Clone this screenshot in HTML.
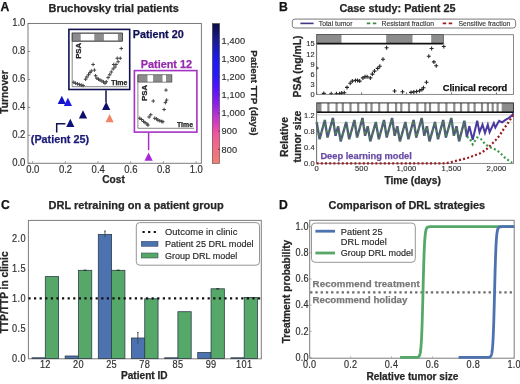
<!DOCTYPE html>
<html><head><meta charset="utf-8"><style>
html,body{margin:0;padding:0;background:#fff;width:520px;height:384px;overflow:hidden}
svg{display:block;filter:blur(0.3px)}
text{font-family:"Liberation Sans", sans-serif}
</style></head><body>
<svg width="520" height="384" viewBox="0 0 520 384" font-family='"Liberation Sans", sans-serif'>
<rect width="520" height="384" fill="#fff"/>
<text x="0.60" y="11.40" font-size="12.2" font-weight="bold" fill="#111" text-anchor="start" stroke="#111" stroke-width="0.25">A</text>
<text x="48.60" y="11.50" font-size="10.9" font-weight="bold" fill="#262626" text-anchor="start" stroke="#262626" stroke-width="0.25">Bruchovsky trial patients</text>
<rect x="28.00" y="23.50" width="173.40" height="139.80" fill="none" stroke="#7c7c7c" stroke-width="1"/>
<text x="25.40" y="166.20" font-size="9.5" fill="#2e2e2e" text-anchor="end" transform="translate(0 166.20) scale(1 1.1) translate(0 -166.20)" stroke="#2e2e2e" stroke-width="0.15">0.0</text>
<text x="32.80" y="172.90" font-size="9.5" fill="#2e2e2e" text-anchor="middle" transform="translate(0 172.90) scale(1 1.1) translate(0 -172.90)" stroke="#2e2e2e" stroke-width="0.15">0.0</text>
<text x="25.40" y="138.24" font-size="9.5" fill="#2e2e2e" text-anchor="end" transform="translate(0 138.24) scale(1 1.1) translate(0 -138.24)" stroke="#2e2e2e" stroke-width="0.15">0.2</text>
<text x="65.50" y="172.90" font-size="9.5" fill="#2e2e2e" text-anchor="middle" transform="translate(0 172.90) scale(1 1.1) translate(0 -172.90)" stroke="#2e2e2e" stroke-width="0.15">0.2</text>
<text x="25.40" y="110.28" font-size="9.5" fill="#2e2e2e" text-anchor="end" transform="translate(0 110.28) scale(1 1.1) translate(0 -110.28)" stroke="#2e2e2e" stroke-width="0.15">0.4</text>
<text x="98.20" y="172.90" font-size="9.5" fill="#2e2e2e" text-anchor="middle" transform="translate(0 172.90) scale(1 1.1) translate(0 -172.90)" stroke="#2e2e2e" stroke-width="0.15">0.4</text>
<text x="25.40" y="82.32" font-size="9.5" fill="#2e2e2e" text-anchor="end" transform="translate(0 82.32) scale(1 1.1) translate(0 -82.32)" stroke="#2e2e2e" stroke-width="0.15">0.6</text>
<text x="130.90" y="172.90" font-size="9.5" fill="#2e2e2e" text-anchor="middle" transform="translate(0 172.90) scale(1 1.1) translate(0 -172.90)" stroke="#2e2e2e" stroke-width="0.15">0.6</text>
<text x="25.40" y="54.36" font-size="9.5" fill="#2e2e2e" text-anchor="end" transform="translate(0 54.36) scale(1 1.1) translate(0 -54.36)" stroke="#2e2e2e" stroke-width="0.15">0.8</text>
<text x="163.60" y="172.90" font-size="9.5" fill="#2e2e2e" text-anchor="middle" transform="translate(0 172.90) scale(1 1.1) translate(0 -172.90)" stroke="#2e2e2e" stroke-width="0.15">0.8</text>
<text x="25.40" y="26.40" font-size="9.5" fill="#2e2e2e" text-anchor="end" transform="translate(0 26.40) scale(1 1.1) translate(0 -26.40)" stroke="#2e2e2e" stroke-width="0.15">1.0</text>
<text x="196.30" y="172.90" font-size="9.5" fill="#2e2e2e" text-anchor="middle" transform="translate(0 172.90) scale(1 1.1) translate(0 -172.90)" stroke="#2e2e2e" stroke-width="0.15">1.0</text>
<line x1="32.60" y1="161.10" x2="32.60" y2="163.30" stroke="#8a8a8a" stroke-width="0.8"/>
<line x1="28.00" y1="163.30" x2="30.20" y2="163.30" stroke="#6a6a6a" stroke-width="0.8"/>
<line x1="65.30" y1="161.10" x2="65.30" y2="163.30" stroke="#8a8a8a" stroke-width="0.8"/>
<line x1="28.00" y1="135.34" x2="30.20" y2="135.34" stroke="#6a6a6a" stroke-width="0.8"/>
<line x1="98.00" y1="161.10" x2="98.00" y2="163.30" stroke="#8a8a8a" stroke-width="0.8"/>
<line x1="28.00" y1="107.38" x2="30.20" y2="107.38" stroke="#6a6a6a" stroke-width="0.8"/>
<line x1="130.70" y1="161.10" x2="130.70" y2="163.30" stroke="#8a8a8a" stroke-width="0.8"/>
<line x1="28.00" y1="79.42" x2="30.20" y2="79.42" stroke="#6a6a6a" stroke-width="0.8"/>
<line x1="163.40" y1="161.10" x2="163.40" y2="163.30" stroke="#8a8a8a" stroke-width="0.8"/>
<line x1="28.00" y1="51.46" x2="30.20" y2="51.46" stroke="#6a6a6a" stroke-width="0.8"/>
<line x1="196.10" y1="161.10" x2="196.10" y2="163.30" stroke="#8a8a8a" stroke-width="0.8"/>
<line x1="28.00" y1="23.50" x2="30.20" y2="23.50" stroke="#6a6a6a" stroke-width="0.8"/>
<text x="113.60" y="183.30" font-size="10.2" font-weight="bold" fill="#262626" text-anchor="middle" stroke="#262626" stroke-width="0.25">Cost</text>
<text x="8.30" y="92.00" font-size="10.2" font-weight="bold" fill="#262626" text-anchor="middle" transform="rotate(-90 8.30 92.00)" stroke="#262626" stroke-width="0.25">Turnover</text>
<defs><linearGradient id="cb" x1="0" y1="0" x2="0" y2="1"><stop offset="0" stop-color="#0c0c44"/><stop offset="0.118" stop-color="#1a1a90"/><stop offset="0.25" stop-color="#1a1aee"/><stop offset="0.38" stop-color="#2a18ff"/><stop offset="0.47" stop-color="#5a12ff"/><stop offset="0.58" stop-color="#9020e8"/><stop offset="0.64" stop-color="#b030d8"/><stop offset="0.73" stop-color="#e040b8"/><stop offset="0.77" stop-color="#f050a4"/><stop offset="0.87" stop-color="#f46888"/><stop offset="1" stop-color="#f28070"/></linearGradient></defs>
<rect x="212.30" y="23.50" width="7.30" height="140.00" fill="url(#cb)" stroke="#4a4a4a" stroke-width="0.6"/>
<line x1="218.00" y1="40.40" x2="219.60" y2="40.40" stroke="#333" stroke-width="0.8"/>
<line x1="218.00" y1="58.55" x2="219.60" y2="58.55" stroke="#333" stroke-width="0.8"/>
<line x1="218.00" y1="76.70" x2="219.60" y2="76.70" stroke="#333" stroke-width="0.8"/>
<line x1="218.00" y1="94.85" x2="219.60" y2="94.85" stroke="#333" stroke-width="0.8"/>
<line x1="218.00" y1="113.00" x2="219.60" y2="113.00" stroke="#333" stroke-width="0.8"/>
<line x1="218.00" y1="131.15" x2="219.60" y2="131.15" stroke="#333" stroke-width="0.8"/>
<line x1="218.00" y1="149.30" x2="219.60" y2="149.30" stroke="#333" stroke-width="0.8"/>
<text x="221.60" y="43.60" font-size="9.2" fill="#2e2e2e" text-anchor="start" letter-spacing="0.15" stroke="#2e2e2e" stroke-width="0.15">1,400</text>
<text x="221.60" y="61.75" font-size="9.2" fill="#2e2e2e" text-anchor="start" letter-spacing="0.15" stroke="#2e2e2e" stroke-width="0.15">1,300</text>
<text x="221.60" y="79.90" font-size="9.2" fill="#2e2e2e" text-anchor="start" letter-spacing="0.15" stroke="#2e2e2e" stroke-width="0.15">1,200</text>
<text x="221.60" y="98.05" font-size="9.2" fill="#2e2e2e" text-anchor="start" letter-spacing="0.15" stroke="#2e2e2e" stroke-width="0.15">1,100</text>
<text x="221.60" y="116.20" font-size="9.2" fill="#2e2e2e" text-anchor="start" letter-spacing="0.15" stroke="#2e2e2e" stroke-width="0.15">1,000</text>
<text x="221.60" y="134.35" font-size="9.2" fill="#2e2e2e" text-anchor="start" letter-spacing="0.15" stroke="#2e2e2e" stroke-width="0.15">900</text>
<text x="221.60" y="152.50" font-size="9.2" fill="#2e2e2e" text-anchor="start" letter-spacing="0.15" stroke="#2e2e2e" stroke-width="0.15">800</text>
<text x="250.80" y="93.00" font-size="9.8" font-weight="bold" fill="#262626" text-anchor="middle" transform="rotate(90 250.80 93.00)" stroke="#262626" stroke-width="0.25">Patient TTP (days)</text>
<path d="M61.80 95.70L65.90 103.90L57.70 103.90Z" fill="#1414c4"/>
<path d="M67.90 97.70L72.00 105.90L63.80 105.90Z" fill="#1c1ce6"/>
<path d="M83.00 110.30L87.10 118.50L78.90 118.50Z" fill="#0e0e6a"/>
<path d="M70.30 118.70L74.40 126.90L66.20 126.90Z" fill="#10107a"/>
<path d="M106.20 101.80L110.30 110.00L102.10 110.00Z" fill="#0e0e6c"/>
<path d="M109.60 114.10L113.70 122.30L105.50 122.30Z" fill="#f28466"/>
<path d="M148.60 152.50L152.70 160.70L144.50 160.70Z" fill="#a824d8"/>
<rect x="68.90" y="29.40" width="60.80" height="60.10" fill="white" stroke="#121250" stroke-width="1.6"/>
<line x1="106.00" y1="90.30" x2="106.00" y2="102.60" stroke="#121250" stroke-width="1.5"/>
<rect x="72.20" y="33.10" width="50.40" height="8.00" fill="#ffffff" stroke="#222" stroke-width="0.7"/>
<rect x="72.20" y="33.10" width="8.50" height="8.00" fill="#8c8c8c" stroke="none" stroke-width="1"/>
<rect x="94.30" y="33.10" width="9.60" height="8.00" fill="#8c8c8c" stroke="none" stroke-width="1"/>
<rect x="117.90" y="33.10" width="4.70" height="8.00" fill="#8c8c8c" stroke="none" stroke-width="1"/>
<rect x="72.20" y="33.10" width="50.40" height="8.00" fill="none" stroke="#333" stroke-width="0.6"/>
<line x1="72.20" y1="33.10" x2="72.20" y2="86.70" stroke="#555" stroke-width="0.7"/>
<line x1="72.20" y1="86.70" x2="127.60" y2="86.70" stroke="#555" stroke-width="0.7"/>
<text x="80.80" y="50.80" font-size="7.8" font-weight="bold" fill="#222" text-anchor="middle" transform="rotate(-90 80.80 50.80)" stroke="#222" stroke-width="0.25">PSA</text>
<text x="111.30" y="85.00" font-size="6.9" font-weight="bold" fill="#222" text-anchor="start" stroke="#222" stroke-width="0.25">Time</text>
<path d="M71.95 82.25H75.55M73.75 80.45V84.05" stroke="#444" stroke-width="1.0"/>
<path d="M73.80 83.25H77.40M75.60 81.45V85.05" stroke="#444" stroke-width="1.0"/>
<path d="M75.70 83.90H79.30M77.50 82.10V85.70" stroke="#444" stroke-width="1.0"/>
<path d="M77.60 84.50H81.20M79.40 82.70V86.30" stroke="#444" stroke-width="1.0"/>
<path d="M79.45 85.10H83.05M81.25 83.30V86.90" stroke="#444" stroke-width="1.0"/>
<path d="M81.30 85.50H84.90M83.10 83.70V87.30" stroke="#444" stroke-width="1.0"/>
<path d="M83.80 79.25H87.40M85.60 77.45V81.05" stroke="#444" stroke-width="1.0"/>
<path d="M85.10 77.00H88.70M86.90 75.20V78.80" stroke="#444" stroke-width="1.0"/>
<path d="M86.70 74.75H90.30M88.50 72.95V76.55" stroke="#444" stroke-width="1.0"/>
<path d="M88.20 72.60H91.80M90.00 70.80V74.40" stroke="#444" stroke-width="1.0"/>
<path d="M89.45 71.00H93.05M91.25 69.20V72.80" stroke="#444" stroke-width="1.0"/>
<path d="M91.30 64.50H94.90M93.10 62.70V66.30" stroke="#444" stroke-width="1.0"/>
<path d="M92.60 70.10H96.20M94.40 68.30V71.90" stroke="#444" stroke-width="1.0"/>
<path d="M93.80 75.75H97.40M95.60 73.95V77.55" stroke="#444" stroke-width="1.0"/>
<path d="M95.10 78.25H98.70M96.90 76.45V80.05" stroke="#444" stroke-width="1.0"/>
<path d="M96.70 79.25H100.30M98.50 77.45V81.05" stroke="#444" stroke-width="1.0"/>
<path d="M98.20 80.10H101.80M100.00 78.30V81.90" stroke="#444" stroke-width="1.0"/>
<path d="M100.10 81.00H103.70M101.90 79.20V82.80" stroke="#444" stroke-width="1.0"/>
<path d="M101.70 82.00H105.30M103.50 80.20V83.80" stroke="#444" stroke-width="1.0"/>
<path d="M103.20 83.25H106.80M105.00 81.45V85.05" stroke="#444" stroke-width="1.0"/>
<path d="M104.45 81.75H108.05M106.25 79.95V83.55" stroke="#444" stroke-width="1.0"/>
<path d="M106.30 77.60H109.90M108.10 75.80V79.40" stroke="#444" stroke-width="1.0"/>
<path d="M107.95 74.75H111.55M109.75 72.95V76.55" stroke="#444" stroke-width="1.0"/>
<path d="M109.45 72.00H113.05M111.25 70.20V73.80" stroke="#444" stroke-width="1.0"/>
<path d="M111.30 68.90H114.90M113.10 67.10V70.70" stroke="#444" stroke-width="1.0"/>
<path d="M113.20 67.00H116.80M115.00 65.20V68.80" stroke="#444" stroke-width="1.0"/>
<path d="M111.95 64.50H115.55M113.75 62.70V66.30" stroke="#444" stroke-width="1.0"/>
<path d="M114.20 64.50H117.80M116.00 62.70V66.30" stroke="#444" stroke-width="1.0"/>
<path d="M116.30 61.75H119.90M118.10 59.95V63.55" stroke="#444" stroke-width="1.0"/>
<path d="M115.45 58.25H119.05M117.25 56.45V60.05" stroke="#444" stroke-width="1.0"/>
<path d="M118.45 58.25H122.05M120.25 56.45V60.05" stroke="#444" stroke-width="1.0"/>
<path d="M119.45 48.50H123.05M121.25 46.70V50.30" stroke="#444" stroke-width="1.0"/>
<rect x="134.40" y="70.60" width="62.50" height="61.50" fill="white" stroke="#a432c4" stroke-width="1.6"/>
<line x1="148.60" y1="132.90" x2="148.60" y2="150.20" stroke="#a432c4" stroke-width="1.5"/>
<rect x="137.90" y="74.80" width="34.00" height="7.30" fill="#ffffff" stroke="none" stroke-width="1"/>
<rect x="137.90" y="74.80" width="9.60" height="7.30" fill="#8c8c8c" stroke="none" stroke-width="1"/>
<rect x="153.10" y="74.80" width="9.40" height="7.30" fill="#8c8c8c" stroke="none" stroke-width="1"/>
<rect x="166.00" y="74.80" width="5.90" height="7.30" fill="#8c8c8c" stroke="none" stroke-width="1"/>
<rect x="137.90" y="74.80" width="34.00" height="7.30" fill="none" stroke="#333" stroke-width="0.6"/>
<line x1="137.90" y1="74.80" x2="137.90" y2="128.30" stroke="#555" stroke-width="0.7"/>
<line x1="137.90" y1="128.30" x2="194.00" y2="128.30" stroke="#555" stroke-width="0.7"/>
<text x="147.30" y="92.90" font-size="7.8" font-weight="bold" fill="#222" text-anchor="middle" transform="rotate(-90 147.30 92.90)" stroke="#222" stroke-width="0.25">PSA</text>
<text x="177.00" y="126.60" font-size="6.9" font-weight="bold" fill="#222" text-anchor="start" stroke="#222" stroke-width="0.25">Time</text>
<path d="M137.95 118.25H141.55M139.75 116.45V120.05" stroke="#444" stroke-width="1.0"/>
<path d="M139.80 119.50H143.40M141.60 117.70V121.30" stroke="#444" stroke-width="1.0"/>
<path d="M141.70 121.40H145.30M143.50 119.60V123.20" stroke="#444" stroke-width="1.0"/>
<path d="M143.20 122.60H146.80M145.00 120.80V124.40" stroke="#444" stroke-width="1.0"/>
<path d="M145.20 123.90H148.80M147.00 122.10V125.70" stroke="#444" stroke-width="1.0"/>
<path d="M146.10 125.10H149.70M147.90 123.30V126.90" stroke="#444" stroke-width="1.0"/>
<path d="M147.30 117.00H150.90M149.10 115.20V118.80" stroke="#444" stroke-width="1.0"/>
<path d="M148.95 114.75H152.55M150.75 112.95V116.55" stroke="#444" stroke-width="1.0"/>
<path d="M151.45 101.00H155.05M153.25 99.20V102.80" stroke="#444" stroke-width="1.0"/>
<path d="M152.95 118.25H156.55M154.75 116.45V120.05" stroke="#444" stroke-width="1.0"/>
<path d="M154.80 118.90H158.40M156.60 117.10V120.70" stroke="#444" stroke-width="1.0"/>
<path d="M156.10 120.10H159.70M157.90 118.30V121.90" stroke="#444" stroke-width="1.0"/>
<path d="M157.95 120.75H161.55M159.75 118.95V122.55" stroke="#444" stroke-width="1.0"/>
<path d="M159.80 121.40H163.40M161.60 119.60V123.20" stroke="#444" stroke-width="1.0"/>
<path d="M161.10 121.75H164.70M162.90 119.95V123.55" stroke="#444" stroke-width="1.0"/>
<path d="M162.30 109.50H165.90M164.10 107.70V111.30" stroke="#444" stroke-width="1.0"/>
<path d="M163.60 102.60H167.20M165.40 100.80V104.40" stroke="#444" stroke-width="1.0"/>
<path d="M164.80 100.10H168.40M166.60 98.30V101.90" stroke="#444" stroke-width="1.0"/>
<path d="M164.20 90.10H167.80M166.00 88.30V91.90" stroke="#444" stroke-width="1.0"/>
<text x="132.70" y="37.80" font-size="10.8" font-weight="bold" fill="#11115a" text-anchor="start" stroke="#11115a" stroke-width="0.25">Patient 20</text>
<text x="140.70" y="68.30" font-size="10.9" font-weight="bold" fill="#962aae" text-anchor="start" stroke="#962aae" stroke-width="0.25">Patient 12</text>
<text x="30.80" y="143.00" font-size="10.8" font-weight="bold" fill="#1a1a78" text-anchor="start" stroke="#1a1a78" stroke-width="0.25">(Patient 25)</text>
<path d="M56.7 132.6V123.8H65.4" fill="none" stroke="#121250" stroke-width="1.5"/>
<text x="279.00" y="11.40" font-size="12.2" font-weight="bold" fill="#111" text-anchor="start" stroke="#111" stroke-width="0.25">B</text>
<text x="339.40" y="12.10" font-size="10.9" font-weight="bold" fill="#262626" text-anchor="start" stroke="#262626" stroke-width="0.25">Case study: Patient 25</text>
<rect x="292.3" y="19.1" width="223.3" height="8.9" rx="2.5" fill="white" stroke="#6a6a6a" stroke-width="0.9"/>
<line x1="300.40" y1="23.40" x2="313.60" y2="23.40" stroke="#463486" stroke-width="1.6"/>
<text x="318.80" y="25.80" font-size="6.8" fill="#3a3a3a" text-anchor="start" stroke="#3a3a3a" stroke-width="0.15">Total tumor</text>
<line x1="366.80" y1="23.40" x2="376.30" y2="23.40" stroke="#3f8a3f" stroke-width="1.6" stroke-dasharray="3.5 2.5"/>
<text x="381.50" y="25.80" font-size="6.8" fill="#3a3a3a" text-anchor="start" stroke="#3a3a3a" stroke-width="0.15">Resistant fraction</text>
<line x1="442.70" y1="23.40" x2="452.70" y2="23.40" stroke="#9a1c1c" stroke-width="1.6" stroke-dasharray="3.5 2.5"/>
<text x="458.50" y="25.80" font-size="6.8" fill="#3a3a3a" text-anchor="start" stroke="#3a3a3a" stroke-width="0.15">Sensitive fraction</text>
<rect x="316.60" y="34.70" width="196.90" height="59.70" fill="none" stroke="#7c7c7c" stroke-width="0.9"/>
<rect x="316.60" y="34.70" width="25.10" height="8.90" fill="#8c8c8c" stroke="none" stroke-width="1"/>
<rect x="341.70" y="34.70" width="44.50" height="8.90" fill="#fff" stroke="none" stroke-width="1"/>
<rect x="386.20" y="34.70" width="26.50" height="8.90" fill="#8c8c8c" stroke="none" stroke-width="1"/>
<rect x="412.70" y="34.70" width="18.50" height="8.90" fill="#fff" stroke="none" stroke-width="1"/>
<rect x="431.20" y="34.70" width="12.20" height="8.90" fill="#8c8c8c" stroke="none" stroke-width="1"/>
<rect x="316.60" y="34.70" width="126.80" height="8.90" fill="none" stroke="#333" stroke-width="0.6"/>
<line x1="316.60" y1="43.60" x2="443.40" y2="43.60" stroke="#111" stroke-width="1.6"/>
<line x1="316.60" y1="34.70" x2="316.60" y2="94.40" stroke="#777" stroke-width="0.9"/>
<text x="314.90" y="97.00" font-size="7.4" fill="#2e2e2e" text-anchor="end" letter-spacing="0.2" stroke="#2e2e2e" stroke-width="0.15">0</text>
<text x="314.90" y="86.89" font-size="7.4" fill="#2e2e2e" text-anchor="end" letter-spacing="0.2" stroke="#2e2e2e" stroke-width="0.15">3</text>
<text x="314.90" y="76.78" font-size="7.4" fill="#2e2e2e" text-anchor="end" letter-spacing="0.2" stroke="#2e2e2e" stroke-width="0.15">6</text>
<text x="314.90" y="66.67" font-size="7.4" fill="#2e2e2e" text-anchor="end" letter-spacing="0.2" stroke="#2e2e2e" stroke-width="0.15">9</text>
<text x="314.90" y="56.56" font-size="7.4" fill="#2e2e2e" text-anchor="end" letter-spacing="0.2" stroke="#2e2e2e" stroke-width="0.15">12</text>
<text x="314.90" y="46.45" font-size="7.4" fill="#2e2e2e" text-anchor="end" letter-spacing="0.2" stroke="#2e2e2e" stroke-width="0.15">15</text>
<text x="300.60" y="66.50" font-size="10.4" font-weight="bold" fill="#262626" text-anchor="middle" transform="rotate(-90 300.60 66.50)" stroke="#262626" stroke-width="0.25">PSA (ng/mL)</text>
<defs><clipPath id="cpsa"><rect x="316.6" y="34.7" width="196.9" height="59.7"/></clipPath></defs><g clip-path="url(#cpsa)">
<path d="M314.60 68.10H318.60M316.60 66.10V70.10" stroke="#262626" stroke-width="1.1"/>
<path d="M321.80 93.40H325.80M323.80 91.40V95.40" stroke="#262626" stroke-width="1.1"/>
<path d="M329.20 93.70H333.20M331.20 91.70V95.70" stroke="#262626" stroke-width="1.1"/>
<path d="M334.40 93.70H338.40M336.40 91.70V95.70" stroke="#262626" stroke-width="1.1"/>
<path d="M337.60 93.70H341.60M339.60 91.70V95.70" stroke="#262626" stroke-width="1.1"/>
<path d="M339.70 93.10H343.70M341.70 91.10V95.10" stroke="#262626" stroke-width="1.1"/>
<path d="M342.30 92.70H346.30M344.30 90.70V94.70" stroke="#262626" stroke-width="1.1"/>
<path d="M345.00 87.40H349.00M347.00 85.40V89.40" stroke="#262626" stroke-width="1.1"/>
<path d="M348.20 83.20H352.20M350.20 81.20V85.20" stroke="#262626" stroke-width="1.1"/>
<path d="M350.30 81.10H354.30M352.30 79.10V83.10" stroke="#262626" stroke-width="1.1"/>
<path d="M353.50 80.40H357.50M355.50 78.40V82.40" stroke="#262626" stroke-width="1.1"/>
<path d="M355.60 80.40H359.60M357.60 78.40V82.40" stroke="#262626" stroke-width="1.1"/>
<path d="M357.70 81.10H361.70M359.70 79.10V83.10" stroke="#262626" stroke-width="1.1"/>
<path d="M360.90 77.90H364.90M362.90 75.90V79.90" stroke="#262626" stroke-width="1.1"/>
<path d="M363.00 76.80H367.00M365.00 74.80V78.80" stroke="#262626" stroke-width="1.1"/>
<path d="M365.10 76.80H369.10M367.10 74.80V78.80" stroke="#262626" stroke-width="1.1"/>
<path d="M368.30 77.90H372.30M370.30 75.90V79.90" stroke="#262626" stroke-width="1.1"/>
<path d="M370.40 74.10H374.40M372.40 72.10V76.10" stroke="#262626" stroke-width="1.1"/>
<path d="M372.50 71.10H376.50M374.50 69.10V73.10" stroke="#262626" stroke-width="1.1"/>
<path d="M375.70 68.40H379.70M377.70 66.40V70.40" stroke="#262626" stroke-width="1.1"/>
<path d="M377.80 66.30H381.80M379.80 64.30V68.30" stroke="#262626" stroke-width="1.1"/>
<path d="M381.00 59.30H385.00M383.00 57.30V61.30" stroke="#262626" stroke-width="1.1"/>
<path d="M384.60 47.80H388.60M386.60 45.80V49.80" stroke="#262626" stroke-width="1.1"/>
<path d="M392.60 91.00H396.60M394.60 89.00V93.00" stroke="#262626" stroke-width="1.1"/>
<path d="M400.50 91.80H404.50M402.50 89.80V93.80" stroke="#262626" stroke-width="1.1"/>
<path d="M409.00 92.40H413.00M411.00 90.40V94.40" stroke="#262626" stroke-width="1.1"/>
<path d="M411.80 91.90H415.80M413.80 89.90V93.90" stroke="#262626" stroke-width="1.1"/>
<path d="M414.60 91.50H418.60M416.60 89.50V93.50" stroke="#262626" stroke-width="1.1"/>
<path d="M417.60 90.80H421.60M419.60 88.80V92.80" stroke="#262626" stroke-width="1.1"/>
<path d="M419.90 89.60H423.90M421.90 87.60V91.60" stroke="#262626" stroke-width="1.1"/>
<path d="M421.50 87.80H425.50M423.50 85.80V89.80" stroke="#262626" stroke-width="1.1"/>
<path d="M424.50 82.20H428.50M426.50 80.20V84.20" stroke="#262626" stroke-width="1.1"/>
<path d="M426.80 56.20H430.80M428.80 54.20V58.20" stroke="#262626" stroke-width="1.1"/>
<path d="M429.60 48.50H433.60M431.60 46.50V50.50" stroke="#262626" stroke-width="1.1"/>
<path d="M431.90 61.90H435.90M433.90 59.90V63.90" stroke="#262626" stroke-width="1.1"/>
<path d="M434.20 65.80H438.20M436.20 63.80V67.80" stroke="#262626" stroke-width="1.1"/>
<path d="M441.80 46.50H445.80M443.80 44.50V48.50" stroke="#262626" stroke-width="1.1"/>
</g>
<text x="442.70" y="90.80" font-size="9.3" font-weight="bold" fill="#111" text-anchor="start" stroke="#111" stroke-width="0.25">Clinical record</text>
<rect x="316.60" y="103.00" width="196.90" height="60.40" fill="none" stroke="#7c7c7c" stroke-width="0.9"/>
<line x1="316.60" y1="114.90" x2="513.50" y2="114.90" stroke="#c4c6c4" stroke-width="0.9"/>
<line x1="316.60" y1="122.80" x2="513.50" y2="122.80" stroke="#d2dad2" stroke-width="0.9"/>
<rect x="316.60" y="103.00" width="196.90" height="9.20" fill="#fff" stroke="none" stroke-width="1"/>
<rect x="316.60" y="103.00" width="4.90" height="9.20" fill="#8c8c8c" stroke="none" stroke-width="1"/>
<rect x="327.30" y="103.00" width="2.20" height="9.20" fill="#8c8c8c" stroke="none" stroke-width="1"/>
<rect x="335.50" y="103.00" width="2.20" height="9.20" fill="#8c8c8c" stroke="none" stroke-width="1"/>
<rect x="341.70" y="103.00" width="2.20" height="9.20" fill="#8c8c8c" stroke="none" stroke-width="1"/>
<rect x="349.40" y="103.00" width="2.20" height="9.20" fill="#8c8c8c" stroke="none" stroke-width="1"/>
<rect x="357.10" y="103.00" width="2.20" height="9.20" fill="#8c8c8c" stroke="none" stroke-width="1"/>
<rect x="365.15" y="103.00" width="2.20" height="9.20" fill="#8c8c8c" stroke="none" stroke-width="1"/>
<rect x="370.40" y="103.00" width="2.20" height="9.20" fill="#8c8c8c" stroke="none" stroke-width="1"/>
<rect x="378.10" y="103.00" width="2.20" height="9.20" fill="#8c8c8c" stroke="none" stroke-width="1"/>
<rect x="386.80" y="103.00" width="2.20" height="9.20" fill="#8c8c8c" stroke="none" stroke-width="1"/>
<rect x="395.00" y="103.00" width="2.20" height="9.20" fill="#8c8c8c" stroke="none" stroke-width="1"/>
<rect x="400.20" y="103.00" width="2.20" height="9.20" fill="#8c8c8c" stroke="none" stroke-width="1"/>
<rect x="407.90" y="103.00" width="2.20" height="9.20" fill="#8c8c8c" stroke="none" stroke-width="1"/>
<rect x="416.30" y="103.00" width="2.20" height="9.20" fill="#8c8c8c" stroke="none" stroke-width="1"/>
<rect x="424.20" y="103.00" width="2.20" height="9.20" fill="#8c8c8c" stroke="none" stroke-width="1"/>
<rect x="428.90" y="103.00" width="2.20" height="9.20" fill="#8c8c8c" stroke="none" stroke-width="1"/>
<rect x="437.50" y="103.00" width="2.20" height="9.20" fill="#8c8c8c" stroke="none" stroke-width="1"/>
<rect x="445.30" y="103.00" width="2.20" height="9.20" fill="#8c8c8c" stroke="none" stroke-width="1"/>
<rect x="453.20" y="103.00" width="2.20" height="9.20" fill="#8c8c8c" stroke="none" stroke-width="1"/>
<rect x="459.90" y="103.00" width="2.20" height="9.20" fill="#8c8c8c" stroke="none" stroke-width="1"/>
<rect x="467.30" y="103.00" width="2.20" height="9.20" fill="#8c8c8c" stroke="none" stroke-width="1"/>
<rect x="473.50" y="103.00" width="2.20" height="9.20" fill="#8c8c8c" stroke="none" stroke-width="1"/>
<rect x="480.90" y="103.00" width="2.20" height="9.20" fill="#8c8c8c" stroke="none" stroke-width="1"/>
<rect x="486.80" y="103.00" width="2.20" height="9.20" fill="#8c8c8c" stroke="none" stroke-width="1"/>
<rect x="491.60" y="103.00" width="2.20" height="9.20" fill="#8c8c8c" stroke="none" stroke-width="1"/>
<rect x="496.50" y="103.00" width="2.20" height="9.20" fill="#8c8c8c" stroke="none" stroke-width="1"/>
<rect x="501.70" y="103.00" width="11.80" height="9.20" fill="#8c8c8c" stroke="none" stroke-width="1"/>
<rect x="316.60" y="103.00" width="196.90" height="9.20" fill="none" stroke="#222" stroke-width="0.8"/>
<line x1="316.60" y1="112.20" x2="513.50" y2="112.20" stroke="#111" stroke-width="1.6"/>
<line x1="316.60" y1="103.00" x2="316.60" y2="163.40" stroke="#777" stroke-width="0.9"/>
<text x="314.90" y="166.00" font-size="7.4" fill="#2e2e2e" text-anchor="end" letter-spacing="0.2" stroke="#2e2e2e" stroke-width="0.15">0.0</text>
<text x="314.90" y="149.90" font-size="7.4" fill="#2e2e2e" text-anchor="end" letter-spacing="0.2" stroke="#2e2e2e" stroke-width="0.15">0.4</text>
<text x="314.90" y="133.80" font-size="7.4" fill="#2e2e2e" text-anchor="end" letter-spacing="0.2" stroke="#2e2e2e" stroke-width="0.15">0.8</text>
<text x="314.90" y="117.70" font-size="7.4" fill="#2e2e2e" text-anchor="end" letter-spacing="0.2" stroke="#2e2e2e" stroke-width="0.15">1.2</text>
<text x="316.60" y="171.40" font-size="7.6" fill="#2e2e2e" text-anchor="middle" letter-spacing="0.2" stroke="#2e2e2e" stroke-width="0.15">0</text>
<text x="361.58" y="171.40" font-size="7.6" fill="#2e2e2e" text-anchor="middle" letter-spacing="0.2" stroke="#2e2e2e" stroke-width="0.15">500</text>
<text x="406.55" y="171.40" font-size="7.6" fill="#2e2e2e" text-anchor="middle" letter-spacing="0.2" stroke="#2e2e2e" stroke-width="0.15">1,000</text>
<text x="451.53" y="171.40" font-size="7.6" fill="#2e2e2e" text-anchor="middle" letter-spacing="0.2" stroke="#2e2e2e" stroke-width="0.15">1,500</text>
<text x="496.50" y="171.40" font-size="7.6" fill="#2e2e2e" text-anchor="middle" letter-spacing="0.2" stroke="#2e2e2e" stroke-width="0.15">2,000</text>
<line x1="316.60" y1="92.40" x2="316.60" y2="94.40" stroke="#555" stroke-width="0.8"/>
<line x1="361.58" y1="92.40" x2="361.58" y2="94.40" stroke="#555" stroke-width="0.8"/>
<line x1="406.55" y1="92.40" x2="406.55" y2="94.40" stroke="#555" stroke-width="0.8"/>
<line x1="451.53" y1="92.40" x2="451.53" y2="94.40" stroke="#555" stroke-width="0.8"/>
<line x1="496.50" y1="92.40" x2="496.50" y2="94.40" stroke="#555" stroke-width="0.8"/>
<text x="412.60" y="184.00" font-size="10.2" font-weight="bold" fill="#262626" text-anchor="middle" stroke="#262626" stroke-width="0.25">Time (days)</text>
<text x="288.30" y="137.00" font-size="10.4" font-weight="bold" fill="#262626" text-anchor="middle" transform="rotate(-90 288.30 137.00)" stroke="#262626" stroke-width="0.25">Relative</text>
<text x="300.80" y="136.60" font-size="10.4" font-weight="bold" fill="#262626" text-anchor="middle" transform="rotate(-90 300.80 136.60)" stroke="#262626" stroke-width="0.25">tumor size</text>
<path d="M316.6 122.0 L319.6 139.2 L324.8 120.0 L327.5 137.5 L332.9 118.0 L335.5 135.8 L338.1 126.2 L340.7 141.4 L346.2 122.0 L349.2 139.2 L354.4 120.0 L357.1 137.5 L362.5 118.0 L365.1 135.8 L367.7 126.2 L370.3 141.4 L375.8 122.0 L378.8 139.2 L384.0 120.0 L386.7 137.5 L392.1 118.0 L394.7 135.8 L397.3 126.2 L399.9 141.4 L405.4 122.0 L408.4 139.2 L413.6 120.0 L416.3 137.5 L421.7 118.0 L424.3 135.8 L426.9 126.2 L429.5 141.4 L435.0 122.0 L438.0 139.2 L443.2 120.0 L445.9 137.5 L451.3 118.0 L453.9 135.8 L456.5 126.2 L459.1 141.4 L464.4 120.8 L466.9 136.7" fill="none" stroke="#50666c" stroke-width="2.4" stroke-linejoin="miter" stroke-miterlimit="3"/>
<path d="M316.6 122.0 L319.6 139.2 L324.8 120.0 L327.5 137.5 L332.9 118.0 L335.5 135.8 L338.1 126.2 L340.7 141.4 L346.2 122.0 L349.2 139.2 L354.4 120.0 L357.1 137.5 L362.5 118.0 L365.1 135.8 L367.7 126.2 L370.3 141.4 L375.8 122.0 L378.8 139.2 L384.0 120.0 L386.7 137.5 L392.1 118.0 L394.7 135.8 L397.3 126.2 L399.9 141.4 L405.4 122.0 L408.4 139.2 L413.6 120.0 L416.3 137.5 L421.7 118.0 L424.3 135.8 L426.9 126.2 L429.5 141.4 L435.0 122.0 L438.0 139.2 L443.2 120.0 L445.9 137.5 L451.3 118.0 L453.9 135.8 L456.5 126.2 L459.1 141.4 L464.4 120.8 L466.9 136.7" fill="none" stroke="#4f8a58" stroke-width="1.2" stroke-dasharray="1.4 4.6"/>
<path d="M316.6 122.0 L319.6 139.2 L324.8 120.0 L327.5 137.5 L332.9 118.0 L335.5 135.8 L338.1 126.2 L340.7 141.4 L346.2 122.0 L349.2 139.2 L354.4 120.0 L357.1 137.5 L362.5 118.0 L365.1 135.8 L367.7 126.2 L370.3 141.4 L375.8 122.0 L378.8 139.2 L384.0 120.0 L386.7 137.5 L392.1 118.0 L394.7 135.8 L397.3 126.2 L399.9 141.4 L405.4 122.0 L408.4 139.2 L413.6 120.0 L416.3 137.5 L421.7 118.0 L424.3 135.8 L426.9 126.2 L429.5 141.4 L435.0 122.0 L438.0 139.2 L443.2 120.0 L445.9 137.5 L451.3 118.0 L453.9 135.8 L456.5 126.2 L459.1 141.4 L464.4 120.8 L466.9 136.7" fill="none" stroke="#55499a" stroke-width="1.2" stroke-dasharray="1.4 4.6" stroke-dashoffset="3"/>
<path d="M466.9 136.7 L469.3 126.1 L472.7 139.7 L477.2 120.8 L479.5 132.2 L482.5 124.6 L485.0 133.0 L487.8 124.6 L489.6 132.2 L493.8 123.1 L495.3 127.6 L499.1 120.8 L502.1 122.4 L505.1 120.1 L508.9 117.8 L511.9 115.6 L513.4 113.3" fill="none" stroke="#4a3aa0" stroke-width="2.0"/>
<path d="M466.9 136.7 L469.6 138.4 L472.7 144.3 L477.2 137.5 L480.2 138.5 L482.5 140.5 L484.0 142.7 L486.3 145.0 L489.3 146.5 L491.5 148.0 L493.8 148.8 L496.8 150.3 L499.8 152.6 L502.1 154.8 L505.1 157.8 L508.2 160.1 L510.4 161.6 L512.2 162.6" fill="none" stroke="#3c9a48" stroke-width="2.2" stroke-dasharray="2.0 2.3"/>
<path d="M316.6 163.3 L445.8 163.3 L450.0 162.4 L456.0 160.9 L462.1 159.4 L468.1 157.8 L474.2 155.6 L480.2 153.3 L486.3 149.5 L490.8 145.0 L495.3 140.5 L499.8 135.2 L503.6 129.1 L507.4 123.9 L510.4 119.3 L512.7 115.6 L513.5 114.2" fill="none" stroke="#9a1a1e" stroke-width="2.2" stroke-dasharray="2.0 2.2"/>
<text x="320.40" y="158.80" font-size="9.3" font-weight="bold" fill="#6a4ca6" text-anchor="start" stroke="#6a4ca6" stroke-width="0.25">Deep learning model</text>
<text x="0.90" y="209.20" font-size="12.2" font-weight="bold" fill="#111" text-anchor="start" stroke="#111" stroke-width="0.25">C</text>
<text x="48.50" y="208.90" font-size="11.0" font-weight="bold" fill="#262626" text-anchor="start" stroke="#262626" stroke-width="0.25">DRL retraining on a patient group</text>
<rect x="28.40" y="220.40" width="232.90" height="138.40" fill="none" stroke="#7c7c7c" stroke-width="1"/>
<text x="25.80" y="361.80" font-size="9.2" fill="#2e2e2e" text-anchor="end" letter-spacing="0.3" transform="translate(0 361.80) scale(1 1.1) translate(0 -361.80)" stroke="#2e2e2e" stroke-width="0.15">0.0</text>
<text x="25.80" y="331.80" font-size="9.2" fill="#2e2e2e" text-anchor="end" letter-spacing="0.3" transform="translate(0 331.80) scale(1 1.1) translate(0 -331.80)" stroke="#2e2e2e" stroke-width="0.15">0.5</text>
<text x="25.80" y="301.80" font-size="9.2" fill="#2e2e2e" text-anchor="end" letter-spacing="0.3" transform="translate(0 301.80) scale(1 1.1) translate(0 -301.80)" stroke="#2e2e2e" stroke-width="0.15">1.0</text>
<text x="25.80" y="271.80" font-size="9.2" fill="#2e2e2e" text-anchor="end" letter-spacing="0.3" transform="translate(0 271.80) scale(1 1.1) translate(0 -271.80)" stroke="#2e2e2e" stroke-width="0.15">1.5</text>
<text x="25.80" y="241.80" font-size="9.2" fill="#2e2e2e" text-anchor="end" letter-spacing="0.3" transform="translate(0 241.80) scale(1 1.1) translate(0 -241.80)" stroke="#2e2e2e" stroke-width="0.15">2.0</text>
<rect x="32.00" y="357.80" width="13.30" height="0.60" fill="#4c72b0" stroke="#2d3d4a" stroke-width="0.8"/>
<rect x="45.30" y="276.62" width="13.30" height="81.78" fill="#55a868" stroke="#2d3d4a" stroke-width="0.8"/>
<text x="45.30" y="368.00" font-size="9.2" fill="#2e2e2e" text-anchor="middle" letter-spacing="0.3" transform="translate(0 368.00) scale(1 1.1) translate(0 -368.00)" stroke="#2e2e2e" stroke-width="0.15">12</text>
<rect x="65.15" y="356.00" width="13.30" height="2.40" fill="#4c72b0" stroke="#2d3d4a" stroke-width="0.8"/>
<rect x="78.45" y="270.32" width="13.30" height="88.08" fill="#55a868" stroke="#2d3d4a" stroke-width="0.8"/>
<text x="78.45" y="368.00" font-size="9.2" fill="#2e2e2e" text-anchor="middle" letter-spacing="0.3" transform="translate(0 368.00) scale(1 1.1) translate(0 -368.00)" stroke="#2e2e2e" stroke-width="0.15">20</text>
<line x1="83.60" y1="270.32" x2="86.60" y2="270.32" stroke="#2a3a2a" stroke-width="1.3"/>
<rect x="98.30" y="234.38" width="13.30" height="124.02" fill="#4c72b0" stroke="#2d3d4a" stroke-width="0.8"/>
<rect x="111.60" y="270.32" width="13.30" height="88.08" fill="#55a868" stroke="#2d3d4a" stroke-width="0.8"/>
<text x="111.60" y="368.00" font-size="9.2" fill="#2e2e2e" text-anchor="middle" letter-spacing="0.3" transform="translate(0 368.00) scale(1 1.1) translate(0 -368.00)" stroke="#2e2e2e" stroke-width="0.15">25</text>
<line x1="116.75" y1="270.32" x2="119.75" y2="270.32" stroke="#2a3a2a" stroke-width="1.3"/>
<rect x="131.45" y="338.00" width="13.30" height="20.40" fill="#4c72b0" stroke="#2d3d4a" stroke-width="0.8"/>
<rect x="144.75" y="298.76" width="13.30" height="59.64" fill="#55a868" stroke="#2d3d4a" stroke-width="0.8"/>
<text x="144.75" y="368.00" font-size="9.2" fill="#2e2e2e" text-anchor="middle" letter-spacing="0.3" transform="translate(0 368.00) scale(1 1.1) translate(0 -368.00)" stroke="#2e2e2e" stroke-width="0.15">78</text>
<rect x="164.60" y="357.80" width="13.30" height="0.60" fill="#4c72b0" stroke="#2d3d4a" stroke-width="0.8"/>
<rect x="177.90" y="311.72" width="13.30" height="46.68" fill="#55a868" stroke="#2d3d4a" stroke-width="0.8"/>
<text x="177.90" y="368.00" font-size="9.2" fill="#2e2e2e" text-anchor="middle" letter-spacing="0.3" transform="translate(0 368.00) scale(1 1.1) translate(0 -368.00)" stroke="#2e2e2e" stroke-width="0.15">85</text>
<rect x="197.75" y="352.52" width="13.30" height="5.88" fill="#4c72b0" stroke="#2d3d4a" stroke-width="0.8"/>
<rect x="211.05" y="288.80" width="13.30" height="69.60" fill="#55a868" stroke="#2d3d4a" stroke-width="0.8"/>
<text x="211.05" y="368.00" font-size="9.2" fill="#2e2e2e" text-anchor="middle" letter-spacing="0.3" transform="translate(0 368.00) scale(1 1.1) translate(0 -368.00)" stroke="#2e2e2e" stroke-width="0.15">99</text>
<line x1="216.20" y1="288.80" x2="219.20" y2="288.80" stroke="#2a3a2a" stroke-width="1.3"/>
<rect x="230.90" y="357.80" width="13.30" height="0.60" fill="#4c72b0" stroke="#2d3d4a" stroke-width="0.8"/>
<rect x="244.20" y="297.50" width="13.30" height="60.90" fill="#55a868" stroke="#2d3d4a" stroke-width="0.8"/>
<text x="244.20" y="368.00" font-size="9.2" fill="#2e2e2e" text-anchor="middle" letter-spacing="0.3" transform="translate(0 368.00) scale(1 1.1) translate(0 -368.00)" stroke="#2e2e2e" stroke-width="0.15">101</text>
<line x1="104.95" y1="231.00" x2="104.95" y2="237.30" stroke="#3a4a5a" stroke-width="0.9"/>
<line x1="104.00" y1="231.00" x2="105.90" y2="231.00" stroke="#3a4a5a" stroke-width="0.8"/>
<line x1="137.85" y1="332.50" x2="137.85" y2="343.80" stroke="#3a4a5a" stroke-width="0.9"/>
<line x1="137.00" y1="332.50" x2="138.70" y2="332.50" stroke="#3a4a5a" stroke-width="0.8"/>
<line x1="28.40" y1="298.40" x2="261.30" y2="298.40" stroke="#111" stroke-width="2.2" stroke-dasharray="2.2 3.4"/>
<rect x="136.3" y="222.6" width="123.2" height="42.6" rx="3.5" fill="white" stroke="#8a8a8a" stroke-width="0.9"/>
<line x1="142.50" y1="232.00" x2="157.00" y2="232.00" stroke="#111" stroke-width="2.2" stroke-dasharray="2.2 3.4"/>
<text x="165.00" y="235.20" font-size="9.3" fill="#262626" text-anchor="start" letter-spacing="0.1" stroke="#262626" stroke-width="0.15">Outcome in clinic</text>
<rect x="141.30" y="241.30" width="16.70" height="5.00" fill="#4c72b0" stroke="#2d3d4a" stroke-width="0.5"/>
<text x="165.00" y="246.80" font-size="9.1" fill="#262626" text-anchor="start" letter-spacing="0.0" stroke="#262626" stroke-width="0.15">Patient 25 DRL model</text>
<rect x="141.30" y="253.00" width="16.70" height="5.00" fill="#55a868" stroke="#2d3d4a" stroke-width="0.5"/>
<text x="165.00" y="258.80" font-size="9.0" fill="#262626" text-anchor="start" letter-spacing="0.0" stroke="#262626" stroke-width="0.15">Group DRL model</text>
<text x="144.30" y="379.00" font-size="10.1" font-weight="bold" fill="#262626" text-anchor="middle" stroke="#262626" stroke-width="0.25">Patient ID</text>
<text x="8.20" y="292.40" font-size="10.2" font-weight="bold" fill="#262626" text-anchor="middle" transform="rotate(-90 8.20 292.40)" stroke="#262626" stroke-width="0.25">TTP/TTP in clinic</text>
<text x="279.00" y="209.20" font-size="12.2" font-weight="bold" fill="#111" text-anchor="start" stroke="#111" stroke-width="0.25">D</text>
<text x="328.60" y="208.80" font-size="10.9" font-weight="bold" fill="#262626" text-anchor="start" stroke="#262626" stroke-width="0.25">Comparison of DRL strategies</text>
<rect x="309.70" y="220.30" width="204.50" height="137.90" fill="none" stroke="#7c7c7c" stroke-width="1"/>
<text x="308.90" y="360.70" font-size="9.1" fill="#2e2e2e" text-anchor="end" letter-spacing="0.25" transform="translate(0 360.70) scale(1 1.1) translate(0 -360.70)" stroke="#2e2e2e" stroke-width="0.15">0.0</text>
<text x="309.70" y="367.90" font-size="9.1" fill="#2e2e2e" text-anchor="middle" letter-spacing="0.25" transform="translate(0 367.90) scale(1 1.1) translate(0 -367.90)" stroke="#2e2e2e" stroke-width="0.15">0.0</text>
<text x="308.90" y="334.56" font-size="9.1" fill="#2e2e2e" text-anchor="end" letter-spacing="0.25" transform="translate(0 334.56) scale(1 1.1) translate(0 -334.56)" stroke="#2e2e2e" stroke-width="0.15">0.2</text>
<text x="350.60" y="367.90" font-size="9.1" fill="#2e2e2e" text-anchor="middle" letter-spacing="0.25" transform="translate(0 367.90) scale(1 1.1) translate(0 -367.90)" stroke="#2e2e2e" stroke-width="0.15">0.2</text>
<text x="308.90" y="308.42" font-size="9.1" fill="#2e2e2e" text-anchor="end" letter-spacing="0.25" transform="translate(0 308.42) scale(1 1.1) translate(0 -308.42)" stroke="#2e2e2e" stroke-width="0.15">0.4</text>
<text x="391.50" y="367.90" font-size="9.1" fill="#2e2e2e" text-anchor="middle" letter-spacing="0.25" transform="translate(0 367.90) scale(1 1.1) translate(0 -367.90)" stroke="#2e2e2e" stroke-width="0.15">0.4</text>
<text x="308.90" y="282.28" font-size="9.1" fill="#2e2e2e" text-anchor="end" letter-spacing="0.25" transform="translate(0 282.28) scale(1 1.1) translate(0 -282.28)" stroke="#2e2e2e" stroke-width="0.15">0.6</text>
<text x="432.40" y="367.90" font-size="9.1" fill="#2e2e2e" text-anchor="middle" letter-spacing="0.25" transform="translate(0 367.90) scale(1 1.1) translate(0 -367.90)" stroke="#2e2e2e" stroke-width="0.15">0.6</text>
<text x="308.90" y="256.14" font-size="9.1" fill="#2e2e2e" text-anchor="end" letter-spacing="0.25" transform="translate(0 256.14) scale(1 1.1) translate(0 -256.14)" stroke="#2e2e2e" stroke-width="0.15">0.8</text>
<text x="473.30" y="367.90" font-size="9.1" fill="#2e2e2e" text-anchor="middle" letter-spacing="0.25" transform="translate(0 367.90) scale(1 1.1) translate(0 -367.90)" stroke="#2e2e2e" stroke-width="0.15">0.8</text>
<text x="308.90" y="230.00" font-size="9.1" fill="#2e2e2e" text-anchor="end" letter-spacing="0.25" transform="translate(0 230.00) scale(1 1.1) translate(0 -230.00)" stroke="#2e2e2e" stroke-width="0.15">1.0</text>
<text x="514.20" y="367.90" font-size="9.1" fill="#2e2e2e" text-anchor="middle" letter-spacing="0.25" transform="translate(0 367.90) scale(1 1.1) translate(0 -367.90)" stroke="#2e2e2e" stroke-width="0.15">1.0</text>
<line x1="309.70" y1="356.20" x2="309.70" y2="358.20" stroke="#aaaaaa" stroke-width="0.8"/>
<line x1="309.70" y1="357.40" x2="311.70" y2="357.40" stroke="#999999" stroke-width="0.8"/>
<line x1="350.60" y1="356.20" x2="350.60" y2="358.20" stroke="#aaaaaa" stroke-width="0.8"/>
<line x1="309.70" y1="331.26" x2="311.70" y2="331.26" stroke="#999999" stroke-width="0.8"/>
<line x1="391.50" y1="356.20" x2="391.50" y2="358.20" stroke="#aaaaaa" stroke-width="0.8"/>
<line x1="309.70" y1="305.12" x2="311.70" y2="305.12" stroke="#999999" stroke-width="0.8"/>
<line x1="432.40" y1="356.20" x2="432.40" y2="358.20" stroke="#aaaaaa" stroke-width="0.8"/>
<line x1="309.70" y1="278.98" x2="311.70" y2="278.98" stroke="#999999" stroke-width="0.8"/>
<line x1="473.30" y1="356.20" x2="473.30" y2="358.20" stroke="#aaaaaa" stroke-width="0.8"/>
<line x1="309.70" y1="252.84" x2="311.70" y2="252.84" stroke="#999999" stroke-width="0.8"/>
<line x1="514.20" y1="356.20" x2="514.20" y2="358.20" stroke="#aaaaaa" stroke-width="0.8"/>
<line x1="309.70" y1="226.70" x2="311.70" y2="226.70" stroke="#999999" stroke-width="0.8"/>
<text x="412.40" y="379.80" font-size="10.1" font-weight="bold" fill="#262626" text-anchor="middle" stroke="#262626" stroke-width="0.25">Relative tumor size</text>
<text x="289.80" y="291.50" font-size="10.2" font-weight="bold" fill="#262626" text-anchor="middle" transform="rotate(-90 289.80 291.50)" stroke="#262626" stroke-width="0.25">Treatment probability</text>
<line x1="310.10" y1="292.30" x2="514.20" y2="292.30" stroke="#6e6e6e" stroke-width="2.3" stroke-dasharray="2.35 2.9"/>
<text x="312.60" y="287.20" font-size="9.7" font-weight="bold" fill="#787878" text-anchor="start" letter-spacing="0.12" stroke="#787878" stroke-width="0.25">Recommend treatment</text>
<text x="312.60" y="302.80" font-size="9.7" font-weight="bold" fill="#787878" text-anchor="start" stroke="#787878" stroke-width="0.25">Recommend holiday</text>
<path d="M400.09 357.40 L400.47 357.40 L400.85 357.40 L401.23 357.40 L401.61 357.40 L401.99 357.40 L402.37 357.40 L402.75 357.40 L403.13 357.40 L403.51 357.40 L403.89 357.40 L404.27 357.40 L404.65 357.40 L405.03 357.40 L405.41 357.40 L405.79 357.40 L406.17 357.40 L406.56 357.40 L406.94 357.40 L407.32 357.40 L407.70 357.40 L408.08 357.40 L408.46 357.40 L408.84 357.40 L409.22 357.40 L409.60 357.40 L409.98 357.40 L410.36 357.40 L410.74 357.40 L411.12 357.40 L411.50 357.40 L411.88 357.40 L412.26 357.40 L412.64 357.40 L413.02 357.40 L413.40 357.40 L413.78 357.40 L414.16 357.40 L414.54 357.40 L414.92 357.39 L415.30 357.39 L415.68 357.38 L416.06 357.37 L416.44 357.36 L416.83 357.33 L417.21 357.29 L417.59 357.22 L417.97 357.12 L418.35 356.96 L418.73 356.69 L419.11 356.28 L419.49 355.62 L419.87 354.60 L420.25 352.99 L420.63 350.52 L421.01 346.78 L421.39 341.26 L421.77 333.46 L422.15 323.01 L422.53 310.04 L422.91 295.31 L423.29 280.25 L423.67 266.39 L424.05 254.80 L424.43 245.89 L424.81 239.45 L425.19 235.01 L425.57 232.04 L425.95 230.11 L426.33 228.86 L426.71 228.07 L427.10 227.56 L427.48 227.24 L427.86 227.04 L428.24 226.91 L428.62 226.83 L429.00 226.78 L429.38 226.75 L429.76 226.73 L430.14 226.72 L430.52 226.71 L430.90 226.71 L431.28 226.71 L431.66 226.70 L432.04 226.70 L432.42 226.70 L432.80 226.70 L433.18 226.70 L433.56 226.70 L433.94 226.70 L434.32 226.70 L434.70 226.70 L435.08 226.70 L435.46 226.70 L435.84 226.70 L436.22 226.70 L436.60 226.70 L436.98 226.70 L437.37 226.70 L437.75 226.70 L438.13 226.70 L438.51 226.70 L438.89 226.70 L439.27 226.70 L439.65 226.70 L440.03 226.70 L440.41 226.70 L440.79 226.70 L441.17 226.70 L441.55 226.70 L441.93 226.70 L442.31 226.70 L442.69 226.70 L443.07 226.70 L443.45 226.70 L443.83 226.70 L444.21 226.70 L444.59 226.70 L444.97 226.70 L445.35 226.70 L445.73 226.70 L446.11 226.70 L446.49 226.70 L446.87 226.70 L447.25 226.70 L447.64 226.70 L448.02 226.70 L448.40 226.70 L448.78 226.70 L449.16 226.70 L449.54 226.70 L449.92 226.70 L450.30 226.70 L450.68 226.70 L451.06 226.70 L451.44 226.70 L451.82 226.70 L452.20 226.70 L452.58 226.70 L452.96 226.70 L453.34 226.70 L453.72 226.70 L454.10 226.70 L454.48 226.70 L454.86 226.70 L455.24 226.70 L455.62 226.70 L456.00 226.70 L456.38 226.70 L456.76 226.70 L457.14 226.70 L457.52 226.70 L457.91 226.70 L458.29 226.70 L458.67 226.70 L459.05 226.70 L459.43 226.70 L459.81 226.70 L460.19 226.70 L460.57 226.70 L460.95 226.70 L461.33 226.70 L461.71 226.70 L462.09 226.70 L462.47 226.70 L462.85 226.70 L463.23 226.70 L463.61 226.70 L463.99 226.70 L464.37 226.70 L464.75 226.70 L465.13 226.70 L465.51 226.70 L465.89 226.70 L466.27 226.70 L466.65 226.70 L467.03 226.70 L467.41 226.70 L467.79 226.70 L468.18 226.70 L468.56 226.70 L468.94 226.70 L469.32 226.70 L469.70 226.70 L470.08 226.70 L470.46 226.70 L470.84 226.70 L471.22 226.70 L471.60 226.70 L471.98 226.70 L472.36 226.70 L472.74 226.70 L473.12 226.70 L473.50 226.70 L473.88 226.70 L474.26 226.70 L474.64 226.70 L475.02 226.70 L475.40 226.70 L475.78 226.70 L476.16 226.70 L476.54 226.70 L476.92 226.70 L477.30 226.70 L477.68 226.70 L478.06 226.70 L478.45 226.70 L478.83 226.70 L479.21 226.70 L479.59 226.70 L479.97 226.70 L480.35 226.70 L480.73 226.70 L481.11 226.70 L481.49 226.70 L481.87 226.70 L482.25 226.70 L482.63 226.70 L483.01 226.70 L483.39 226.70 L483.77 226.70 L484.15 226.70 L484.53 226.70 L484.91 226.70 L485.29 226.70 L485.67 226.70 L486.05 226.70 L486.43 226.70 L486.81 226.70 L487.19 226.70 L487.57 226.70 L487.95 226.70 L488.33 226.70 L488.72 226.70 L489.10 226.70 L489.48 226.70 L489.86 226.70 L490.24 226.70 L490.62 226.70 L491.00 226.70 L491.38 226.70 L491.76 226.70 L492.14 226.70 L492.52 226.70 L492.90 226.70 L493.28 226.70 L493.66 226.70 L494.04 226.70 L494.42 226.70 L494.80 226.70 L495.18 226.70 L495.56 226.70 L495.94 226.70 L496.32 226.70 L496.70 226.70 L497.08 226.70 L497.46 226.70 L497.84 226.70 L498.22 226.70 L498.60 226.70 L498.99 226.70 L499.37 226.70 L499.75 226.70 L500.13 226.70 L500.51 226.70 L500.89 226.70 L501.27 226.70 L501.65 226.70 L502.03 226.70 L502.41 226.70 L502.79 226.70 L503.17 226.70 L503.55 226.70 L503.93 226.70 L504.31 226.70 L504.69 226.70 L505.07 226.70 L505.45 226.70 L505.83 226.70 L506.21 226.70 L506.59 226.70 L506.97 226.70 L507.35 226.70 L507.73 226.70 L508.11 226.70 L508.49 226.70 L508.87 226.70 L509.26 226.70 L509.64 226.70 L510.02 226.70 L510.40 226.70 L510.78 226.70 L511.16 226.70 L511.54 226.70 L511.92 226.70 L512.30 226.70 L512.68 226.70 L513.06 226.70 L513.44 226.70 L513.82 226.70 L514.20 226.70" fill="none" stroke="#55a868" stroke-width="2.8"/>
<path d="M458.58 357.40 L458.76 357.40 L458.95 357.40 L459.13 357.40 L459.32 357.40 L459.50 357.40 L459.69 357.40 L459.87 357.40 L460.06 357.40 L460.24 357.40 L460.43 357.40 L460.62 357.40 L460.80 357.40 L460.99 357.40 L461.17 357.40 L461.36 357.40 L461.54 357.40 L461.73 357.40 L461.91 357.40 L462.10 357.40 L462.28 357.40 L462.47 357.40 L462.66 357.40 L462.84 357.40 L463.03 357.40 L463.21 357.40 L463.40 357.40 L463.58 357.40 L463.77 357.40 L463.95 357.40 L464.14 357.40 L464.32 357.40 L464.51 357.40 L464.69 357.40 L464.88 357.40 L465.07 357.40 L465.25 357.40 L465.44 357.40 L465.62 357.40 L465.81 357.40 L465.99 357.40 L466.18 357.40 L466.36 357.40 L466.55 357.40 L466.73 357.40 L466.92 357.40 L467.11 357.40 L467.29 357.40 L467.48 357.40 L467.66 357.40 L467.85 357.40 L468.03 357.40 L468.22 357.40 L468.40 357.40 L468.59 357.40 L468.77 357.40 L468.96 357.40 L469.14 357.40 L469.33 357.40 L469.52 357.40 L469.70 357.40 L469.89 357.40 L470.07 357.40 L470.26 357.40 L470.44 357.40 L470.63 357.40 L470.81 357.40 L471.00 357.40 L471.18 357.40 L471.37 357.40 L471.55 357.40 L471.74 357.40 L471.93 357.40 L472.11 357.40 L472.30 357.40 L472.48 357.40 L472.67 357.40 L472.85 357.40 L473.04 357.40 L473.22 357.40 L473.41 357.40 L473.59 357.40 L473.78 357.40 L473.97 357.40 L474.15 357.40 L474.34 357.40 L474.52 357.40 L474.71 357.40 L474.89 357.40 L475.08 357.40 L475.26 357.40 L475.45 357.40 L475.63 357.40 L475.82 357.40 L476.00 357.40 L476.19 357.40 L476.38 357.40 L476.56 357.40 L476.75 357.40 L476.93 357.40 L477.12 357.40 L477.30 357.40 L477.49 357.40 L477.67 357.40 L477.86 357.40 L478.04 357.40 L478.23 357.40 L478.42 357.40 L478.60 357.40 L478.79 357.40 L478.97 357.40 L479.16 357.40 L479.34 357.40 L479.53 357.40 L479.71 357.40 L479.90 357.40 L480.08 357.40 L480.27 357.40 L480.45 357.40 L480.64 357.40 L480.83 357.40 L481.01 357.40 L481.20 357.40 L481.38 357.40 L481.57 357.40 L481.75 357.40 L481.94 357.40 L482.12 357.40 L482.31 357.40 L482.49 357.40 L482.68 357.40 L482.87 357.40 L483.05 357.40 L483.24 357.40 L483.42 357.40 L483.61 357.40 L483.79 357.40 L483.98 357.40 L484.16 357.40 L484.35 357.40 L484.53 357.40 L484.72 357.40 L484.90 357.40 L485.09 357.40 L485.28 357.40 L485.46 357.40 L485.65 357.40 L485.83 357.40 L486.02 357.40 L486.20 357.40 L486.39 357.39 L486.57 357.39 L486.76 357.39 L486.94 357.39 L487.13 357.39 L487.32 357.38 L487.50 357.38 L487.69 357.37 L487.87 357.36 L488.06 357.35 L488.24 357.34 L488.43 357.33 L488.61 357.31 L488.80 357.29 L488.98 357.26 L489.17 357.22 L489.35 357.18 L489.54 357.12 L489.73 357.05 L489.91 356.96 L490.10 356.85 L490.28 356.71 L490.47 356.54 L490.65 356.32 L490.84 356.05 L491.02 355.71 L491.21 355.28 L491.39 354.76 L491.58 354.10 L491.76 353.29 L491.95 352.28 L492.14 351.04 L492.32 349.52 L492.51 347.67 L492.69 345.42 L492.88 342.71 L493.06 339.49 L493.25 335.69 L493.43 331.27 L493.62 326.21 L493.80 320.51 L493.99 314.23 L494.18 307.44 L494.36 300.28 L494.55 292.92 L494.73 285.54 L494.92 278.32 L495.10 271.43 L495.29 265.02 L495.47 259.18 L495.66 253.97 L495.84 249.40 L496.03 245.45 L496.21 242.10 L496.40 239.28 L496.59 236.92 L496.77 234.98 L496.96 233.39 L497.14 232.09 L497.33 231.03 L497.51 230.18 L497.70 229.49 L497.88 228.93 L498.07 228.48 L498.25 228.13 L498.44 227.84 L498.63 227.61 L498.81 227.43 L499.00 227.28 L499.18 227.16 L499.37 227.07 L499.55 226.99 L499.74 226.93 L499.92 226.89 L500.11 226.85 L500.29 226.82 L500.48 226.79 L500.66 226.78 L500.85 226.76 L501.04 226.75 L501.22 226.74 L501.41 226.73 L501.59 226.72 L501.78 226.72 L501.96 226.72 L502.15 226.71 L502.33 226.71 L502.52 226.71 L502.70 226.71 L502.89 226.70 L503.08 226.70 L503.26 226.70 L503.45 226.70 L503.63 226.70 L503.82 226.70 L504.00 226.70 L504.19 226.70 L504.37 226.70 L504.56 226.70 L504.74 226.70 L504.93 226.70 L505.11 226.70 L505.30 226.70 L505.49 226.70 L505.67 226.70 L505.86 226.70 L506.04 226.70 L506.23 226.70 L506.41 226.70 L506.60 226.70 L506.78 226.70 L506.97 226.70 L507.15 226.70 L507.34 226.70 L507.53 226.70 L507.71 226.70 L507.90 226.70 L508.08 226.70 L508.27 226.70 L508.45 226.70 L508.64 226.70 L508.82 226.70 L509.01 226.70 L509.19 226.70 L509.38 226.70 L509.56 226.70 L509.75 226.70 L509.94 226.70 L510.12 226.70 L510.31 226.70 L510.49 226.70 L510.68 226.70 L510.86 226.70 L511.05 226.70 L511.23 226.70 L511.42 226.70 L511.60 226.70 L511.79 226.70 L511.98 226.70 L512.16 226.70 L512.35 226.70 L512.53 226.70 L512.72 226.70 L512.90 226.70 L513.09 226.70 L513.27 226.70 L513.46 226.70 L513.64 226.70 L513.83 226.70 L514.01 226.70 L514.20 226.70" fill="none" stroke="#4c72b0" stroke-width="2.8"/>
<rect x="311.5" y="223.1" width="103.8" height="39.2" rx="3.5" fill="white" stroke="#8a8a8a" stroke-width="0.9"/>
<line x1="315.40" y1="231.20" x2="335.00" y2="231.20" stroke="#4c72b0" stroke-width="2.8"/>
<line x1="315.40" y1="253.00" x2="335.00" y2="253.00" stroke="#55a868" stroke-width="2.8"/>
<text x="340.80" y="234.60" font-size="9.2" fill="#262626" text-anchor="start" letter-spacing="0.05" stroke="#262626" stroke-width="0.15">Patient 25</text>
<text x="340.80" y="245.40" font-size="9.2" fill="#262626" text-anchor="start" letter-spacing="0.05" stroke="#262626" stroke-width="0.15">DRL model</text>
<text x="340.80" y="256.00" font-size="9.0" fill="#262626" text-anchor="start" letter-spacing="0.0" stroke="#262626" stroke-width="0.15">Group DRL model</text>
</svg>
</body></html>
